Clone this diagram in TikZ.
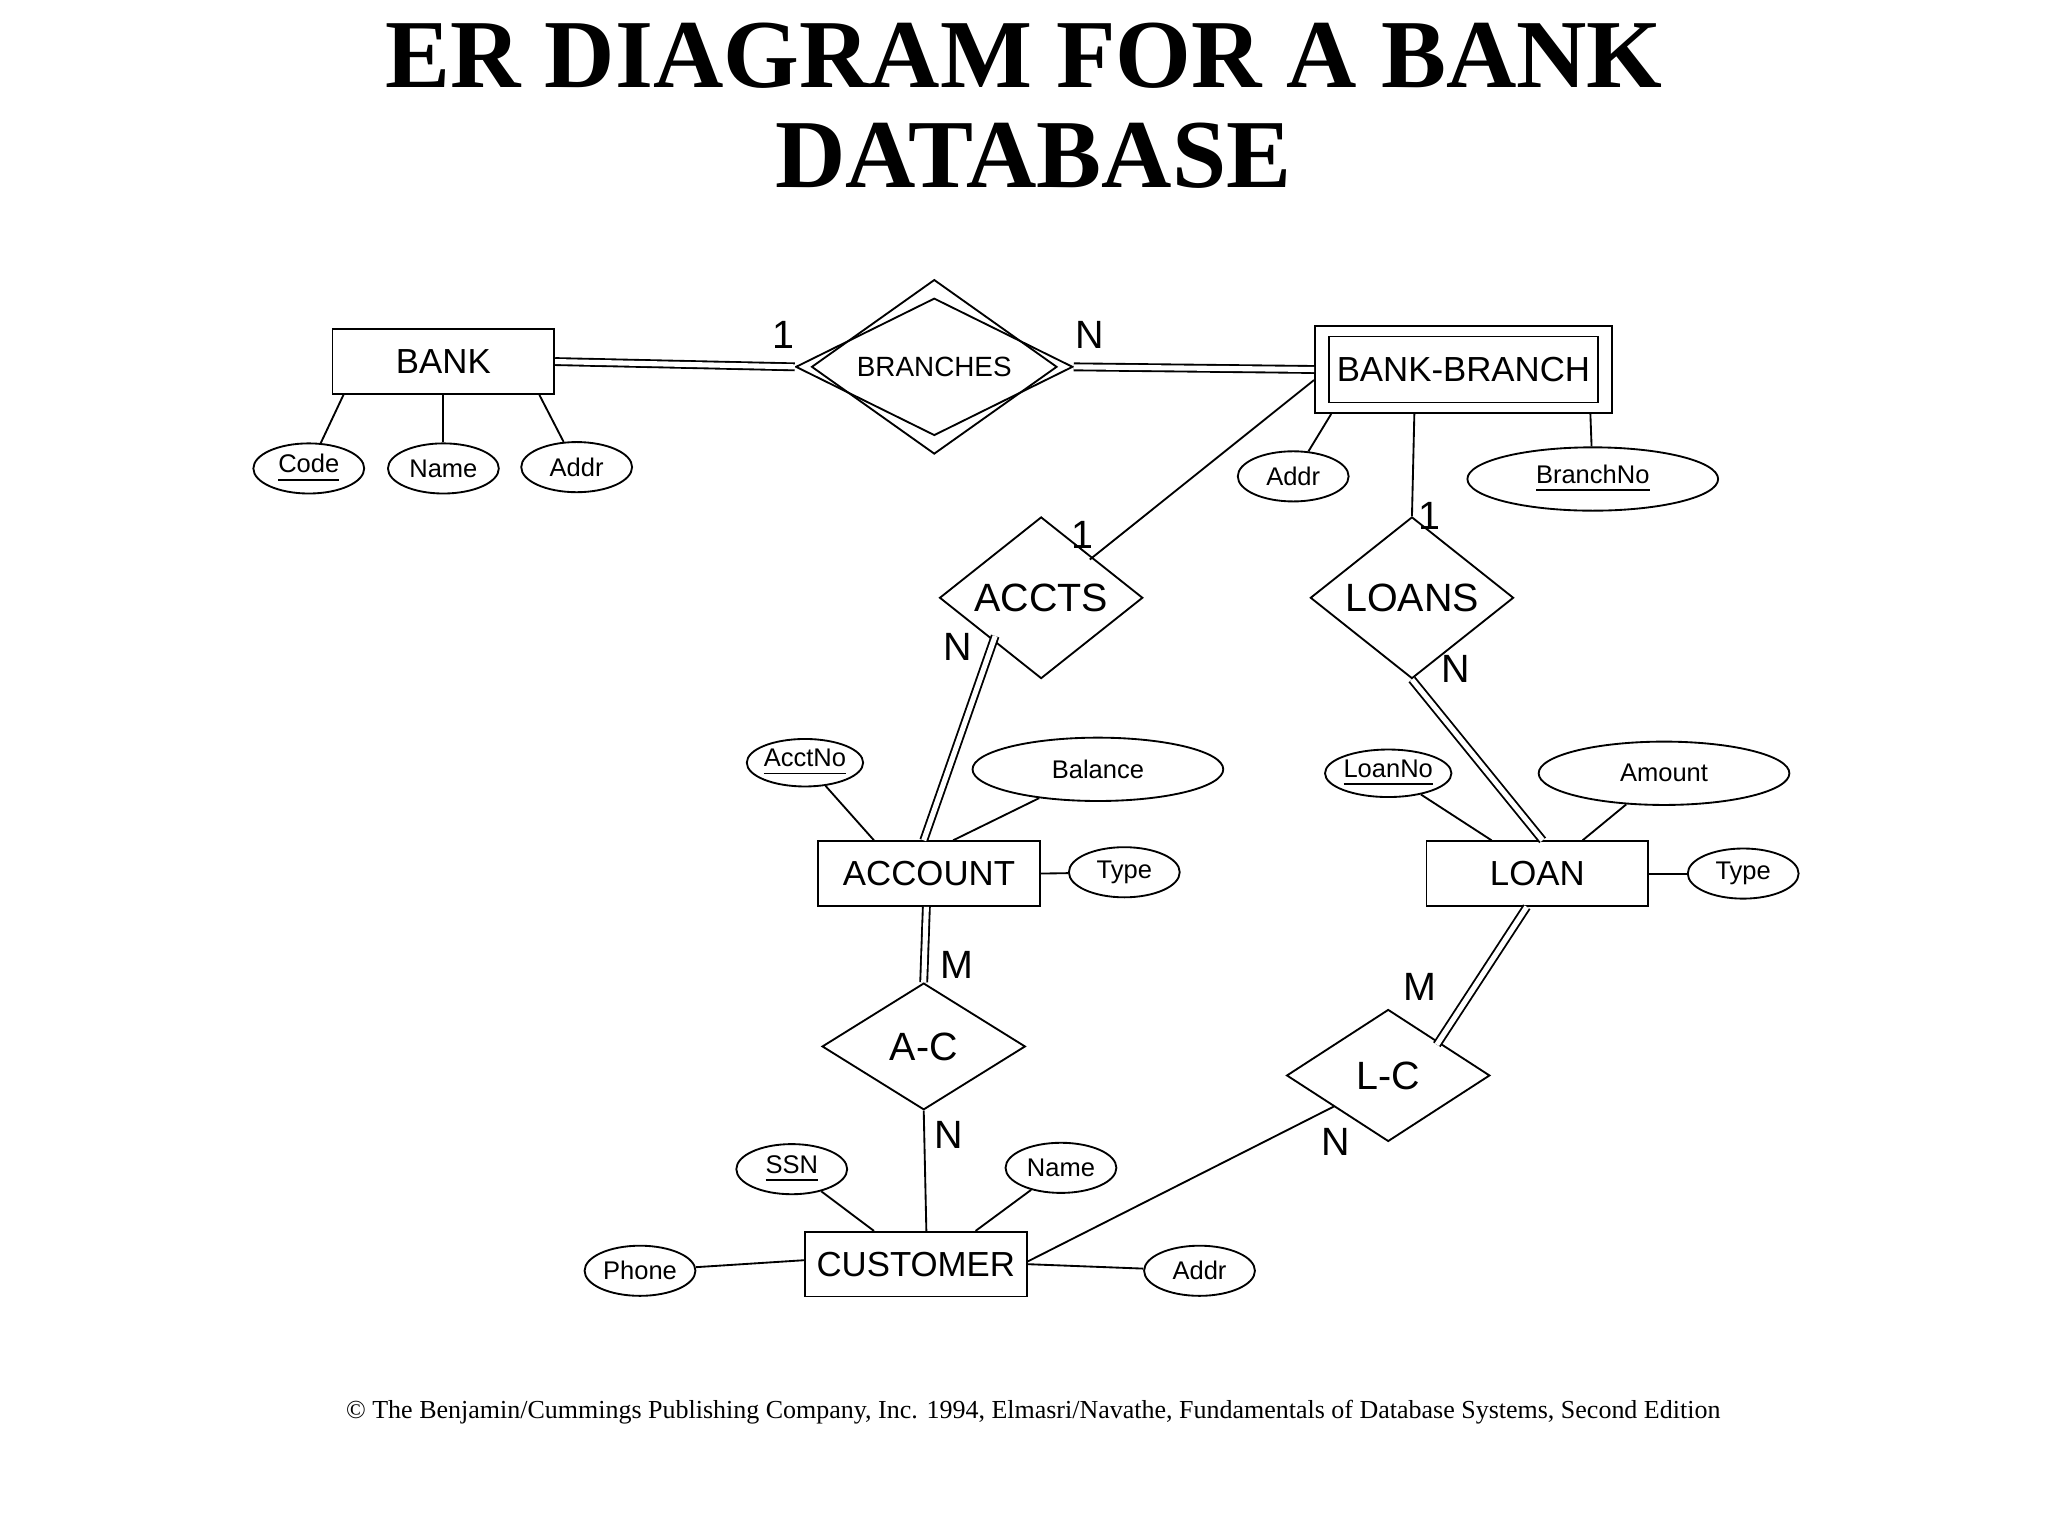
\documentclass[tikz,border=0pt]{standalone}
\usepackage{fontspec}
\setmainfont{Liberation Serif}
\newfontfamily\dsans{Liberation Sans}
\usetikzlibrary{shapes.geometric,calc}
\begin{document}
\begin{tikzpicture}[x=0.01cm,y=-0.01cm,line width=0.4pt,
 ent/.style={draw,rectangle,inner sep=0,minimum width=168*0.01cm,minimum height=49*0.01cm,font=\dsans\fontsize{7.5}{8}\selectfont},
 rel/.style={draw,diamond,inner sep=0,minimum width=154*0.01cm,minimum height=100*0.01cm,font=\dsans\fontsize{8.5}{9}\selectfont},
 att/.style={draw,ellipse,inner sep=0,minimum width=84*0.01cm,minimum height=38*0.01cm,font=\dsans\fontsize{5.5}{6}\selectfont},
 big/.style={att,minimum width=190*0.01cm,minimum height=48*0.01cm},
 card/.style={font=\dsans\fontsize{8.5}{9}\selectfont,inner sep=0},
 dbl/.style={double,double distance=1.1pt}]
\useasboundingbox (0,0) rectangle (1552,1164);
\node[font=\bfseries\fontsize{21}{24}\selectfont] (t1) at (776,42) {ER DIAGRAM FOR A BANK};
\node[font=\bfseries\fontsize{21}{24}\selectfont] (t2) at (783,118) {DATABASE};
% entities
\node[ent] (bank) at (336,274) {BANK};
\node[ent,minimum width=225*0.01cm,minimum height=66*0.01cm] (bb) at (1109,280) {};
\node[ent,minimum width=204*0.01cm,minimum height=50*0.01cm] (bbi) at (1109,280) {BANK-BRANCH};
\node[ent] (acc) at (704,662) {ACCOUNT};
\node[ent] (loan) at (1165,662) {LOAN};
\node[ent] (cust) at (694,958) {CUSTOMER};
% relationships
\node[rel,minimum width=210*0.01cm,minimum height=104*0.01cm] (br) at (708,278) {};
\node[rel,minimum width=186*0.01cm,minimum height=84*0.01cm,font=\dsans\fontsize{6}{7}\selectfont] (bri) at (708,278) {BRANCHES};
\node[rel] (accts) at (789,453) {ACCTS};
\node[rel] (loans) at (1070,453) {LOANS};
\node[rel,minimum height=96*0.01cm] (ac) at (700,793) {A-C};
\node[rel] (lc) at (1052,815) {L-C};
% attributes
\node[att] (code) at (234,355) {\underline{Code}};
\node[att] (bname) at (336,355) {Name};
\node[att] (baddr) at (437,354) {Addr};
\node[att] (bbaddr) at (980,361) {Addr};
\node[big] (bno) at (1207,363) {\underline{BranchNo}};
\node[att,minimum height=36*0.01cm] (ano) at (610,578) {\underline{AcctNo}};
\node[big] (bal) at (832,583) {Balance};
\node[att] (atype) at (852,661) {Type};
\node[att,minimum height=36*0.01cm] (lno) at (1052,586) {\underline{LoanNo}};
\node[big] (amt) at (1261,586) {Amount};
\node[att] (ltype) at (1321,662) {Type};
\node[att] (ssn) at (600,886) {\underline{SSN}};
\node[att] (cname) at (804,885) {Name};
\node[att] (phone) at (485,963) {Phone};
\node[att] (caddr) at (909,963) {Addr};
% relationship connectors
\draw[dbl] (bank.east) -- (br.west);
\draw[dbl] (br.east) -- (bb.west);
\draw ($(bb.west)+(0,8)$) -- ($(accts.north east)+(-2,2)$);
\draw ($(bb.south west)+(76,0)$) -- (loans.north);
\draw[dbl] ($(accts.south west)+(4,-2)$) -- ($(acc.north)+(-4,0)$);
\draw[dbl] ($(loans.south)+(0,0)$) -- ($(loan.north)+(4,0)$);
\draw[dbl] ($(acc.south)+(-2,0)$) -- ($(ac.north)+(0,0)$);
\draw (ac.south) -- ($(cust.north)+(8,0)$);
\draw[dbl] ($(loan.south)+(-8,0)$) -- ($(lc.north east)+(-2,2)$);
\draw ($(lc.south west)+(-2,-2)$) -- ($(cust.east)+(0,-2)$);
% cardinalities
\node[card] (c1) at (594,254) {1};
\node[card] (c2) at (826,254) {N};
\node[card] (c3) at (820,405) {1};
\node[card] (c4) at (1083,391) {1};
\node[card] (c5) at (726,490) {N};
\node[card] (c6) at (1103,507) {N};
\node[card] (c7) at (725,731) {M};
\node[card] (c8) at (719,860) {N};
\node[card] (c9) at (1076,748) {M};
\node[card] (c10) at (1012,865) {N};
% attribute connectors
\draw (code) -- ($(bank.south west)+(9,0)$);
\draw (bname) -- (bank.south);
\draw (baddr) -- ($(bank.south east)+(-12,0)$);
\draw (bbaddr) -- ($(bb.south west)+(13,0)$);
\draw (bno) -- ($(bb.south east)+(-17,0)$);
\draw (ano) -- ($(acc.north west)+(43,0)$);
\draw (bal) -- ($(acc.north west)+(103,0)$);
\draw (atype) -- (acc.east);
\draw (lno) -- ($(loan.north west)+(50,0)$);
\draw (amt) -- ($(loan.north west)+(119,0)$);
\draw (ltype) -- (loan.east);
\draw (ssn) -- ($(cust.north west)+(53,0)$);
\draw (cname) -- ($(cust.north west)+(130,0)$);
\draw (phone) -- ($(cust.west)+(0,-3)$);
\draw (caddr) -- (cust.east);
\node[font=\fontsize{5.6}{7}\selectfont] (foot) at (783,1070) {© The Benjamin/Cummings Publishing Company, Inc. 1994, Elmasri/Navathe, Fundamentals of Database Systems, Second Edition};
\end{tikzpicture}
\end{document}
